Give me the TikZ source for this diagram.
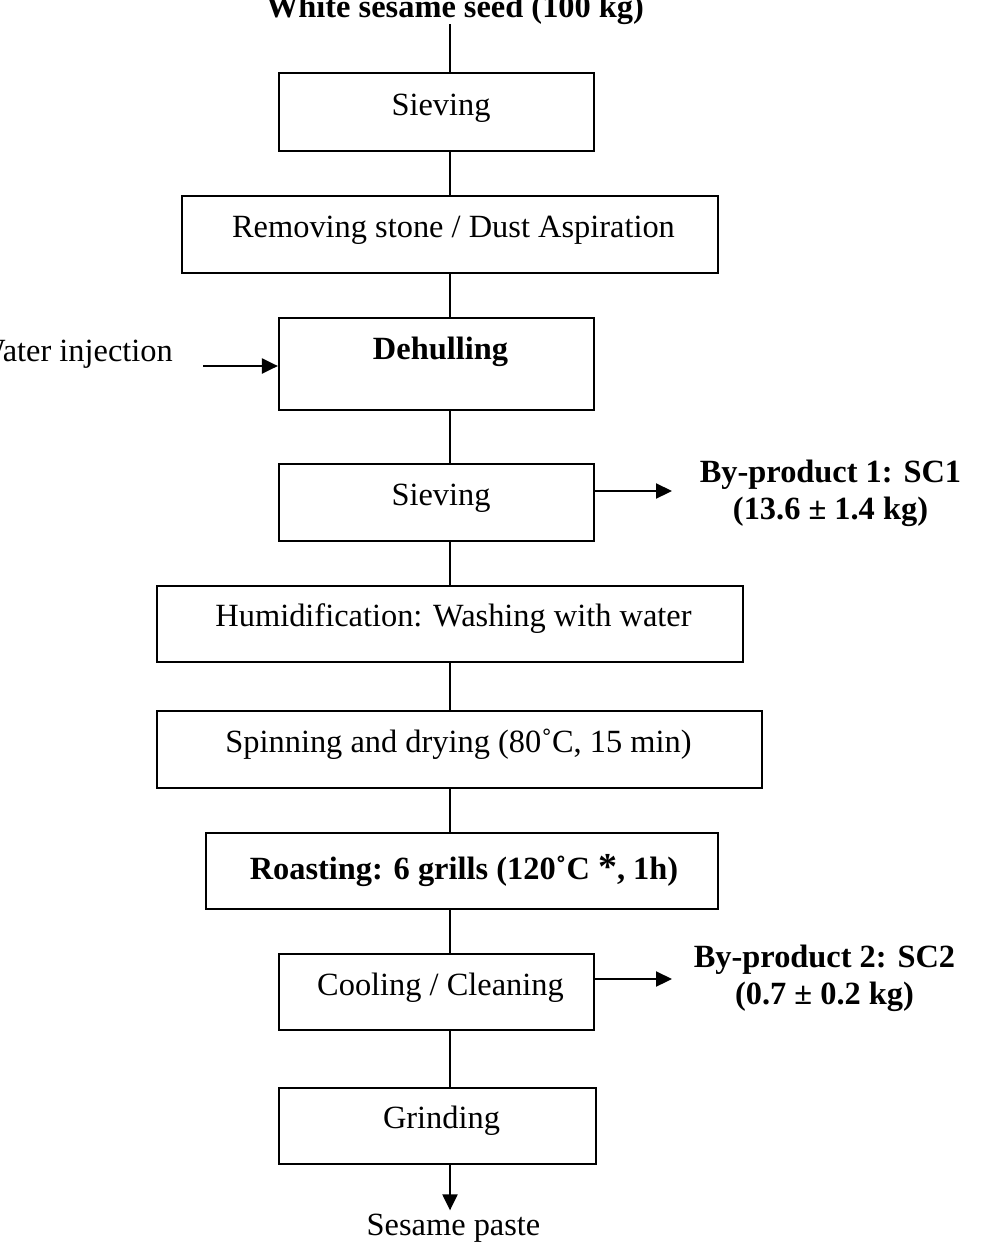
\documentclass[tikz,border=0pt]{standalone}
\usepackage{fontspec}
\setmainfont{Liberation Serif}
\usetikzlibrary{arrows.meta}
\begin{document}
\begin{tikzpicture}[x=1pt,y=-1pt,
  every node/.style={font=\fontsize{32.4}{36.5}\selectfont, inner sep=0pt},
  stepbox/.style={draw, line width=2.2pt, rectangle, inner sep=0pt},
  lbl/.style={anchor=base},
  conn/.style={line width=2.2pt},
  arr/.style={line width=2.2pt, -{Triangle[length=16pt,width=15pt]}}]
\useasboundingbox (0,0) rectangle (989,1248);
\coordinate (axis) at (450,0);

% boxes
\node[stepbox, minimum width=315pt, minimum height=78pt] (b1) at (436.5,112) {};
\node[stepbox, minimum width=536pt, minimum height=77pt] (b2) at (450,234.5) {};
\node[stepbox, minimum width=315pt, minimum height=92pt] (b3) at (436.5,364) {};
\node[stepbox, minimum width=315pt, minimum height=77pt] (b4) at (436.5,502.5) {};
\node[stepbox, minimum width=586pt, minimum height=76pt] (b5) at (450,624) {};
\node[stepbox, minimum width=605pt, minimum height=77pt] (b6) at (459.5,749.5) {};
\node[stepbox, minimum width=512pt, minimum height=76pt] (b7) at (462,871) {};
\node[stepbox, minimum width=315pt, minimum height=76pt] (b8) at (436.5,992) {};
\node[stepbox, minimum width=317pt, minimum height=76pt] (b9) at (437.5,1126) {};

% texts
\node[lbl] (title) at (455,17) {\bfseries White sesame seed (100 kg)};
\node[lbl] (t1) at (441,115) {Sieving};
\node[lbl] (t2) at (453.5,237) {Removing stone / Dust Aspiration};
\node[lbl] (t3) at (440.5,359) {\bfseries Dehulling};
\node[lbl] (t4) at (441,505) {Sieving};
\node[lbl] (t5) at (453.5,626) {Humidification: Washing with water};
\node[lbl] (t6) at (458.5,752) {Spinning and drying (80˚C, 15 min)};
\node[lbl] (t7) at (464,879) {\bfseries Roasting: 6 grills (120˚C {\fontsize{38}{40}\selectfont *}, 1h)};
\node[lbl] (t8) at (440.5,995) {Cooling / Cleaning};
\node[lbl] (t9) at (441.5,1128) {Grinding};
\node[anchor=base east] (water) at (173,361) {Water injection};
\node[anchor=north, align=center, font=\fontsize{32.4}{36.5}\selectfont\bfseries] (by1) at (830.5,460) {By-product 1: SC1\\(13.6 ± 1.4 kg)};
\node[anchor=north, align=center, font=\fontsize{32.4}{36.5}\selectfont\bfseries] (by2) at (824.5,945) {By-product 2: SC2\\(0.7 ± 0.2 kg)};
\node[lbl] (paste) at (453.5,1235) {Sesame paste};
\coordinate (wstart) at (203,366);
\coordinate (by1in) at (672,491);
\coordinate (by2in) at (672,979);

% connectors
\draw[conn] (title.south -| axis) -- (b1.north -| axis);
\draw[conn] (b1.south -| axis) -- (b2.north -| axis);
\draw[conn] (b2.south -| axis) -- (b3.north -| axis);
\draw[conn] (b3.south -| axis) -- (b4.north -| axis);
\draw[conn] (b4.south -| axis) -- (b5.north -| axis);
\draw[conn] (b5.south -| axis) -- (b6.north -| axis);
\draw[conn] (b6.south -| axis) -- (b7.north -| axis);
\draw[conn] (b7.south -| axis) -- (b8.north -| axis);
\draw[conn] (b8.south -| axis) -- (b9.north -| axis);
\draw[arr] (b9.south -| axis) -- ([yshift=3pt]paste.north -| axis);
\draw[arr] (wstart) -- (wstart -| b3.west);
\draw[arr] (by1in -| b4.east) -- (by1in);
\draw[arr] (by2in -| b8.east) -- (by2in);
\end{tikzpicture}
\end{document}
